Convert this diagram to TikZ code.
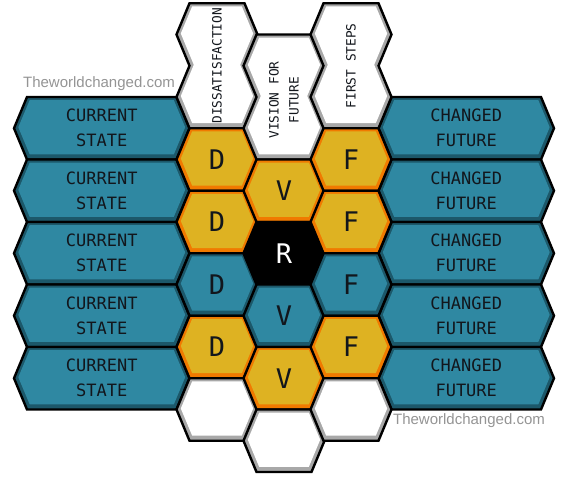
\documentclass[tikz,border=0pt]{standalone}
\usepackage{fontspec}
\usepackage{xcolor}
\usepackage{tikz}
\setmonofont{DejaVu Sans Mono}
\newfontfamily\webfont{Liberation Sans}

\definecolor{sea}{RGB}{47,136,162}
\definecolor{seadark}{RGB}{28,88,106}
\definecolor{gold}{RGB}{222,178,34}
\definecolor{goldrim}{RGB}{240,122,0}
\definecolor{greyrim}{RGB}{168,168,168}
\definecolor{ink}{RGB}{18,22,28}

% hexagon box: centre x, centre y, half width, fill, rim
\newcommand{\hexbox}[5]{%
\begin{scope}[shift={(#1,#2)}]
\fill[#5] ({-#3},0) -- ({-#3+13},-31.25) -- ({#3-13},-31.25) -- ({#3},0) -- ({#3-13},31.25) -- ({-#3+13},31.25) -- cycle;
\fill[#4] ({-#3+4.3},-1) -- ({-#3+15.7},-28.2) -- ({#3-15.7},-28.2) -- ({#3-4.3},-1) -- ({#3-15.7},26.2) -- ({-#3+15.7},26.2) -- cycle;
\draw[rimline] ({-#3},0) -- ({-#3+13},-31.25) -- ({#3-13},-31.25) -- ({#3},0) -- ({#3-13},31.25) -- ({-#3+13},31.25) -- cycle;
\end{scope}}

% two cells stacked into one tall white hexagon: centre x, upper centre y
\newcommand{\tallhex}[2]{%
\begin{scope}[shift={(#1,#2)}]
\fill[greyrim] (-27.5,-31.25) -- (27.5,-31.25) -- (40.5,0) -- (27.5,31.25) -- (40.5,62.5) -- (27.5,93.75) -- (-27.5,93.75) -- (-40.5,62.5) -- (-27.5,31.25) -- (-40.5,0) -- cycle;
\fill[white] (-24.8,-28.2) -- (24.8,-28.2) -- (36.2,-1) -- (23.2,30.25) -- (36.2,61.5) -- (24.8,88.7) -- (-24.8,88.7) -- (-36.2,61.5) -- (-23.2,30.25) -- (-36.2,-1) -- cycle;
\draw[rimline] (-27.5,-31.25) -- (27.5,-31.25) -- (40.5,0) -- (27.5,31.25) -- (40.5,62.5) -- (27.5,93.75) -- (-27.5,93.75) -- (-40.5,62.5) -- (-27.5,31.25) -- (-40.5,0) -- cycle;
\end{scope}}

\begin{document}
\begin{tikzpicture}[x=1pt, y=-1pt]
\tikzstyle{rimline}=[draw=black, line width=2.4pt, line join=miter]
\tikzstyle{lcd}=[text=ink, font=\ttfamily\fontsize{17}{25}\selectfont, align=center, inner sep=0pt]
\tikzstyle{letter}=[text=ink, font=\ttfamily\fontsize{27}{27}\selectfont, inner sep=0pt]
\tikzstyle{heading}=[lcd, font=\ttfamily\fontsize{12.8}{20}\selectfont, rotate=90]
\tikzstyle{watermark}=[text=black!42, font=\webfont\fontsize{15}{15}\selectfont, inner sep=0pt]
\useasboundingbox (0,0) rectangle (566,477);

% current state
\hexbox{101.75}{128.25}{87.75}{sea}{seadark}
\hexbox{101.75}{190.75}{87.75}{sea}{seadark}
\hexbox{101.75}{253.25}{87.75}{sea}{seadark}
\hexbox{101.75}{315.75}{87.75}{sea}{seadark}
\hexbox{101.75}{378.25}{87.75}{sea}{seadark}
% changed future
\hexbox{466.25}{128.25}{87.75}{sea}{seadark}
\hexbox{466.25}{190.75}{87.75}{sea}{seadark}
\hexbox{466.25}{253.25}{87.75}{sea}{seadark}
\hexbox{466.25}{315.75}{87.75}{sea}{seadark}
\hexbox{466.25}{378.25}{87.75}{sea}{seadark}

% D column
\tallhex{217}{34.5}
\hexbox{217}{159.5}{40.5}{gold}{goldrim}
\hexbox{217}{222}{40.5}{gold}{goldrim}
\hexbox{217}{284.5}{40.5}{sea}{seadark}
\hexbox{217}{347}{40.5}{gold}{goldrim}
\hexbox{217}{409.5}{40.5}{white}{greyrim}
% V column
\tallhex{284}{65.75}
\hexbox{284}{190.75}{40.5}{gold}{goldrim}
\hexbox{284}{253.25}{40.5}{black}{black}
\hexbox{284}{315.75}{40.5}{sea}{seadark}
\hexbox{284}{378.25}{40.5}{gold}{goldrim}
\hexbox{284}{440.75}{40.5}{white}{greyrim}
% F column
\tallhex{351}{34.5}
\hexbox{351}{159.5}{40.5}{gold}{goldrim}
\hexbox{351}{222}{40.5}{gold}{goldrim}
\hexbox{351}{284.5}{40.5}{sea}{seadark}
\hexbox{351}{347}{40.5}{gold}{goldrim}
\hexbox{351}{409.5}{40.5}{white}{greyrim}

\node[lcd] (CS1) at (101.75,128.25) {CURRENT\\STATE};
\node[lcd] (CS2) at (101.75,190.75) {CURRENT\\STATE};
\node[lcd] (CS3) at (101.75,253.25) {CURRENT\\STATE};
\node[lcd] (CS4) at (101.75,315.75) {CURRENT\\STATE};
\node[lcd] (CS5) at (101.75,378.25) {CURRENT\\STATE};
\node[lcd] (CF1) at (466.25,128.25) {CHANGED\\FUTURE};
\node[lcd] (CF2) at (466.25,190.75) {CHANGED\\FUTURE};
\node[lcd] (CF3) at (466.25,253.25) {CHANGED\\FUTURE};
\node[lcd] (CF4) at (466.25,315.75) {CHANGED\\FUTURE};
\node[lcd] (CF5) at (466.25,378.25) {CHANGED\\FUTURE};

\node[heading] (Dis) at (217,65.75) {DISSATISFACTION};
\node[heading] (Vis) at (284,100) {VISION FOR\\FUTURE};
\node[heading] (Fst) at (351,65.75) {FIRST STEPS};

\node[letter] (D1) at (217,159.5) {D};
\node[letter] (D2) at (217,222) {D};
\node[letter] (D3) at (217,284.5) {D};
\node[letter] (D4) at (217,347) {D};
\node[letter] (V1) at (284,190.75) {V};
\node[letter, text=white] (R) at (284,253.25) {R};
\node[letter] (V2) at (284,315.75) {V};
\node[letter] (V3) at (284,378.25) {V};
\node[letter] (F1) at (351,159.5) {F};
\node[letter] (F2) at (351,222) {F};
\node[letter] (F3) at (351,284.5) {F};
\node[letter] (F4) at (351,347) {F};

\node[watermark] (W1) at (99,84) {Theworldchanged.com};
\node[watermark] (W2) at (469,421) {Theworldchanged.com};
\end{tikzpicture}
\end{document}
